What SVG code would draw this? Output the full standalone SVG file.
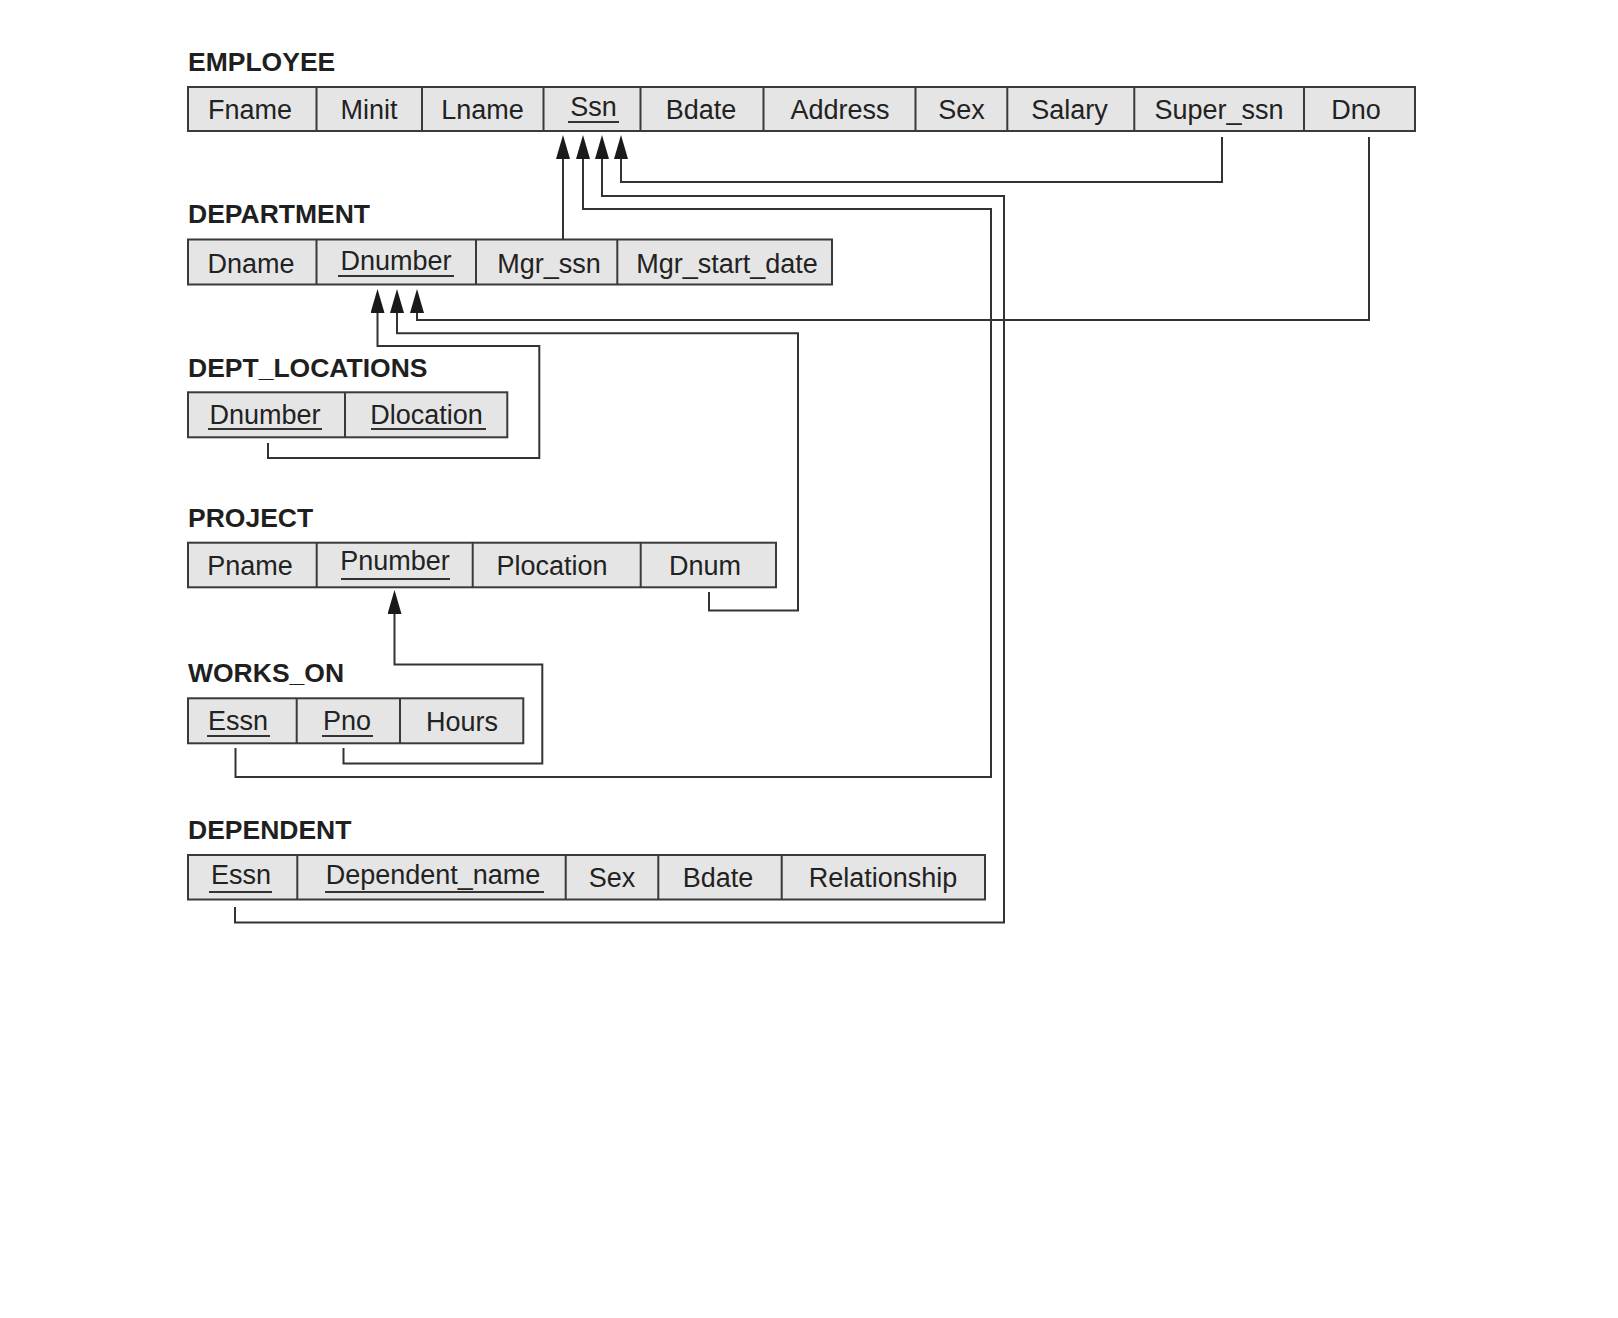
<svg xmlns="http://www.w3.org/2000/svg" width="1618" height="1318" viewBox="0 0 1618 1318">
<style>
  .title { font-family: "Liberation Sans", Arial, Helvetica, sans-serif; font-weight: bold; font-size: 26.5px; fill: #1f1f1f; }
  .cell { font-family: "Liberation Sans", Arial, Helvetica, sans-serif; font-size: 27px; fill: #222; text-anchor: middle; }
  .tbl { fill: #e5e5e5; stroke: #3a3a3a; stroke-width: 2; }
  .div { stroke: #3a3a3a; stroke-width: 2; }
  .ul { stroke: #333; stroke-width: 2; }
  .conn { fill: none; stroke: #333; stroke-width: 2; marker-end: url(#arrow); }
</style>
<defs>
  <marker id="arrow" viewBox="0 0 24 14" refX="1" refY="7" markerWidth="24" markerHeight="14" markerUnits="userSpaceOnUse" orient="auto">
    <path d="M0,0 L24,7 L0,14 z" fill="#1a1a1a"/>
  </marker>
</defs>
<rect width="1618" height="1318" fill="#ffffff"/>

<g id="employee">
  <text class="title" x="188" y="71">EMPLOYEE</text>
  <rect class="tbl" x="188" y="87" width="1227" height="44"/>
  <path class="div" d="M316.5,87V131 M422,87V131 M543.5,87V131 M640.5,87V131 M763.5,87V131 M915.5,87V131 M1007.3,87V131 M1134.3,87V131 M1304,87V131"/>
  <text class="cell" x="250" y="119">Fname</text>
  <text class="cell" x="369" y="119">Minit</text>
  <text class="cell" x="482.5" y="119">Lname</text>
  <text class="cell" x="593.5" y="116">Ssn</text>
  <line class="ul" x1="568" y1="122" x2="619" y2="122"/>
  <text class="cell" x="701" y="119">Bdate</text>
  <text class="cell" x="840" y="119">Address</text>
  <text class="cell" x="961.5" y="119">Sex</text>
  <text class="cell" x="1069.5" y="119">Salary</text>
  <text class="cell" x="1219" y="119">Super_ssn</text>
  <text class="cell" x="1356" y="119">Dno</text>
</g>

<g id="department">
  <text class="title" x="188" y="223">DEPARTMENT</text>
  <rect class="tbl" x="188" y="239.5" width="644" height="45"/>
  <path class="div" d="M316.5,239.5V284.5 M476,239.5V284.5 M617.3,239.5V284.5"/>
  <text class="cell" x="251" y="272.5">Dname</text>
  <text class="cell" x="396" y="270">Dnumber</text>
  <line class="ul" x1="338" y1="276" x2="454" y2="276"/>
  <text class="cell" x="549" y="272.5">Mgr_ssn</text>
  <text class="cell" x="727" y="272.5">Mgr_start_date</text>
</g>

<g id="dept_locations">
  <text class="title" x="188" y="376.5">DEPT_LOCATIONS</text>
  <rect class="tbl" x="188" y="392.3" width="319.3" height="45"/>
  <path class="div" d="M345,392.3V437.3"/>
  <text class="cell" x="265" y="423.5">Dnumber</text>
  <line class="ul" x1="208" y1="429" x2="322" y2="429"/>
  <text class="cell" x="426.5" y="423.5">Dlocation</text>
  <line class="ul" x1="371" y1="429" x2="486" y2="429"/>
</g>

<g id="project">
  <text class="title" x="188" y="527">PROJECT</text>
  <rect class="tbl" x="188" y="542.7" width="588" height="44.6"/>
  <path class="div" d="M316.7,542.7V587.3 M472.7,542.7V587.3 M640.7,542.7V587.3"/>
  <text class="cell" x="250" y="575">Pname</text>
  <text class="cell" x="395" y="570">Pnumber</text>
  <line class="ul" x1="341" y1="579" x2="450" y2="579"/>
  <text class="cell" x="552" y="575">Plocation</text>
  <text class="cell" x="705" y="575">Dnum</text>
</g>

<g id="works_on">
  <text class="title" x="188" y="682">WORKS_ON</text>
  <rect class="tbl" x="188" y="698.3" width="335.3" height="45"/>
  <path class="div" d="M296.7,698.3V743.3 M400,698.3V743.3"/>
  <text class="cell" x="238" y="730">Essn</text>
  <line class="ul" x1="207" y1="736" x2="270" y2="736"/>
  <text class="cell" x="347" y="730">Pno</text>
  <line class="ul" x1="322" y1="736" x2="373" y2="736"/>
  <text class="cell" x="462" y="731">Hours</text>
</g>

<g id="dependent">
  <text class="title" x="188" y="839">DEPENDENT</text>
  <rect class="tbl" x="188" y="855" width="797" height="44.5"/>
  <path class="div" d="M297.3,855V899.5 M565.7,855V899.5 M658.3,855V899.5 M781.7,855V899.5"/>
  <text class="cell" x="241" y="883.5">Essn</text>
  <line class="ul" x1="209" y1="892" x2="272" y2="892"/>
  <text class="cell" x="433" y="883.5">Dependent_name</text>
  <line class="ul" x1="325" y1="892" x2="544" y2="892"/>
  <text class="cell" x="612" y="887">Sex</text>
  <text class="cell" x="718" y="887">Bdate</text>
  <text class="cell" x="883" y="887">Relationship</text>
</g>

<g id="connectors">
  <path class="conn" d="M1222,137 V182 H621 V158"/>
  <path class="conn" d="M235,907 V922.5 H1004 V196 H602 V158"/>
  <path class="conn" d="M235.5,748 V777 H991 V209 H583 V158"/>
  <path class="conn" d="M563,239.5 V158"/>
  <path class="conn" d="M1369,137 V320 H417 V312"/>
  <path class="conn" d="M709,592 V610.5 H798 V333.3 H397 V312"/>
  <path class="conn" d="M268,443 V458 H539.3 V346 H377.5 V312"/>
  <path class="conn" d="M343.5,748 V763.5 H542.3 V664.5 H394.5 V613"/>
</g>
</svg>
